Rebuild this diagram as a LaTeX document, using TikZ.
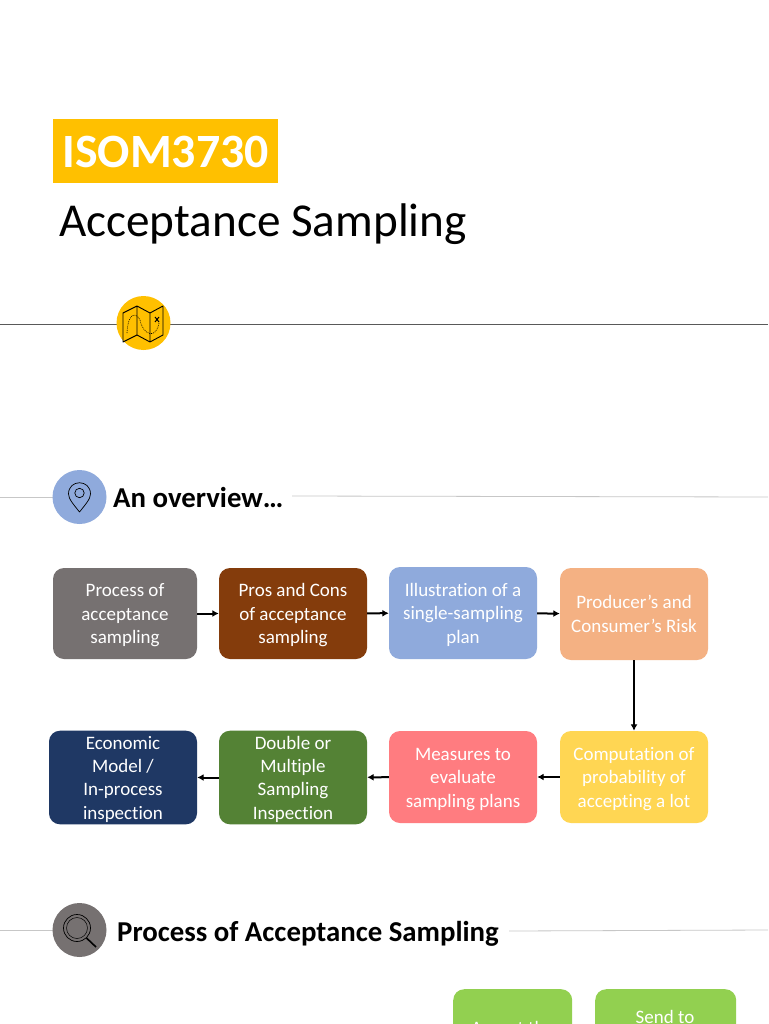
\documentclass[tikz,border=0pt]{standalone}
\usepackage{fontspec}
\setmainfont[Ligatures={NoCommon}]{Carlito}
\usetikzlibrary{arrows.meta}
\definecolor{cgray}{HTML}{767171}
\definecolor{cbrown}{HTML}{843C0C}
\definecolor{cblue}{HTML}{8FAADC}
\definecolor{corange}{HTML}{F4B183}
\definecolor{cyellow}{HTML}{FFD653}
\definecolor{cpink}{HTML}{FF7C80}
\definecolor{cgreen}{HTML}{548235}
\definecolor{cnavy}{HTML}{1F3864}
\definecolor{clime}{HTML}{92D050}
\definecolor{cgold}{HTML}{FFC000}
\tikzset{
  x=1pt,y=-1pt,
  flow/.style={rounded corners=11pt,draw=none,align=center,text=white,inner sep=0pt,font=\fontsize{19}{23.4}\selectfont},
  link/.style={line width=2pt,-{Latex[length=6.5pt,width=7pt]}},
  rulefaint/.style={draw=black!22,line width=0.8pt},
  ruledark/.style={draw=black!65,line width=0.9pt},
  head/.style={anchor=west,inner sep=0pt,font=\bfseries\fontsize{28.8}{32}\selectfont},
  badge/.style={circle,draw=none,inner sep=0pt,minimum size=54pt},
  icon/.style={line width=0.9pt,line join=round,draw=black}
}
\newcommand{\flowbox}[7]{% name, x0,y0,x1,y1, colour, text
  \node[flow,fill=#6,minimum width={#4-#2},minimum height={#5-#3}] (#1) at ({(#2+#4)/2},{(#3+#5)/2}) {\raisebox{-2pt}[\height][\depth]{\begin{tabular}{@{}c@{}}#7\end{tabular}}};}
\begin{document}
\begin{tikzpicture}
\useasboundingbox (0,0) rectangle (768,1024);
\clip (0,0) rectangle (768,1024);
\fill[white] (0,0) rectangle (768,1024);
% title
\node[fill=cgold,minimum width=225pt,minimum height=64pt,inner sep=0pt] (code) at (165.5,151) {};
\node[inner sep=0pt,text=white,font=\bfseries\fontsize{47.8}{54}\selectfont] (codet) at (165.5,152) {ISOM3730};
\node[anchor=west,inner sep=0pt,font=\fontsize{47.2}{54}\selectfont] (title) at (59,224) {Acceptance Sampling};
% rule with map badge
\coordinate (r1l) at (0,324); \coordinate (r1r) at (768,324);
\draw[ruledark] (r1l) -- (r1r);
\node[badge,fill=cgold] (map) at (143.5,323) {};
\draw[icon] (123,342) -- (123,313) -- (137,306) -- (150,313) -- (163,306) -- (163,335) -- (150,342) -- (137,335) -- cycle
  (137,306) -- (137,335) (150,313) -- (150,342);
\draw[icon,densely dotted,line width=0.6pt] (127,333) .. controls (128,312) and (136,312) .. (140,320) .. controls (143,335) and (156,340) .. (159,323);
\draw[icon,line width=1pt] (155,317) -- (159,322) (159,317) -- (155,322);
% overview heading
\coordinate (r2a) at (0,497); \coordinate (r2b) at (292,496); \coordinate (r2c) at (768,497);
\draw[rulefaint] (r2a) -- (60,497);
\draw[rulefaint] (r2b) -- (r2c);
\node[badge,fill=cblue] (pin) at (79.5,497) {};
\draw[icon,line width=0.7pt] (79.5,512) .. controls (74,505) and (68.5,499) .. (68.5,494) .. controls (68.5,479) and (90.5,479) .. (90.5,494) .. controls (90.5,499) and (85,505) .. (79.5,512) -- cycle;
\draw[icon,line width=0.7pt] (79.5,493) circle[radius=4.7pt];
\node[head] (h1) at (113,497) {An overview…};
% process heading
\coordinate (r3a) at (0,930); \coordinate (r3b) at (509,931); \coordinate (r3c) at (768,930);
\draw[rulefaint] (r3a) -- (60,930);
\draw[rulefaint] (r3b) -- (r3c);
\node[badge,fill=cgray] (lens) at (79.5,930) {};
\draw[icon,line width=0.7pt] (77,928) circle[radius=13.5pt];
\draw[icon,line width=0.5pt] (77,928) circle[radius=10.5pt];
\draw[icon,line width=1.6pt] (86.5,938) -- (96,947);
\node[head] (h2) at (117,934) {Process of Acceptance Sampling};
% flow
\flowbox{a}{53}{568}{197}{659}{cgray}{Process of\\acceptance\\sampling}
\flowbox{b}{219}{568}{367}{659}{cbrown}{Pros and Cons\\of acceptance\\sampling}
\flowbox{c}{389}{567}{537}{659}{cblue}{Illustration of a\\single-sampling\\plan}
\flowbox{d}{560}{568}{708}{660}{corange}{Producer’s and\\Consumer’s Risk}
\flowbox{e}{560}{731}{708}{823}{cyellow}{Computation of\\probability of\\accepting a lot}
\flowbox{f}{389}{731}{537}{823}{cpink}{Measures to\\evaluate\\sampling plans}
\flowbox{g}{219}{731}{367}{824}{cgreen}{Double or\\Multiple\\Sampling\\Inspection}
\flowbox{h}{49}{731}{197}{824}{cnavy}{Economic\\Model /\\In-process\\inspection}
\draw[link] (a) -- (b);
\draw[link] (b) -- (c);
\draw[link] (c) -- (d);
\draw[link] (d) -- (e);
\draw[link] (e) -- (f);
\draw[link] (f) -- (g);
\draw[link] (g) -- (h);
% bottom boxes, cut off by the page
\node[flow,fill=clime,minimum width=119pt,minimum height=90pt,anchor=north west] (acc) at (453,989) {};
\node[flow,fill=clime,minimum width=141pt,minimum height=90pt,anchor=north west] (send) at (595,989) {};
\node[text=white,inner sep=0pt,font=\fontsize{19}{23.4}\selectfont] (acct) at (512.5,1029) {Accept the};
\node[text=white,inner sep=0pt,font=\fontsize{19}{23.4}\selectfont] (sendt) at (665,1016.5) {Send to};
\end{tikzpicture}
\end{document}
